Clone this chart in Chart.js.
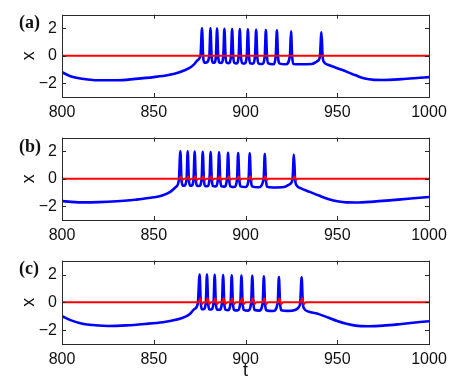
<!DOCTYPE html>
<html>
<head>
<meta charset="utf-8">
<script src="https://cdn.jsdelivr.net/npm/chart.js@4.4.0/dist/chart.umd.min.js"></script>
<style>
  html, body { margin: 0; padding: 0; background: #fff; }
  body { width: 474px; height: 387px; position: relative; overflow: hidden; }
  .panel { position: absolute; left: 0; width: 474px; }
  .lbl { position: absolute; font: bold 18px "Liberation Serif", "DejaVu Serif", serif; line-height: 18px; color: #111; }
</style>
</head>
<body>
<div class="panel" style="top:0px;height:123px"><canvas id="ca" width="474" height="123"></canvas></div>
<div class="panel" style="top:123px;height:123px"><canvas id="cb" width="474" height="123"></canvas></div>
<div class="panel" style="top:246px;height:141px"><canvas id="cc" width="474" height="141"></canvas></div>
<div class="lbl" style="left:19px;top:13px">(a)</div>
<div class="lbl" style="left:19px;top:137px">(b)</div>
<div class="lbl" style="left:19px;top:259px">(c)</div>
<script>
// ---- tick labels ----
const xTicks = [800, 850, 900, 950, 1000];
const yTicks = [-2, 0, 2];
const panelLabels = ['(a)', '(b)', '(c)'];

// ---- panel (a): blue x(t) ----
const tA = [800,805,810,820,830,840,850,858,864,869,872,874,875.5,
  876.3,876.9,877.6,878.5,880.3,880.9,881.5,882.2,883.0,883.9,884.5,885.1,885.8,886.8,
  887.9,888.5,889.1,889.8,890.9,892.1,892.7,893.3,894.0,895.1,896.3,896.9,897.5,898.2,899.5,
  900.7,901.3,901.9,902.6,904.0,905.2,905.8,906.4,907.1,909.0,910.5,911.1,911.7,912.4,915.0,
  916.5,917.1,917.7,918.4,922.0,924.2,924.8,925.4,926.1,930,936,939,940.5,941.4,942,943,945,
  950,955,960,965,970,975,985,995,1000];
const xA = [-1.2,-1.5,-1.65,-1.78,-1.78,-1.68,-1.55,-1.4,-1.2,-0.92,-0.62,-0.3,0.05,
  2.0,0,-0.5,-0.5,0,2.0,0,-0.5,-0.5,0,1.98,0,-0.5,-0.52,
  0,1.97,0,-0.5,-0.53,0,1.95,0,-0.52,-0.55,0,1.95,0,-0.53,-0.56,
  0,1.93,0,-0.55,-0.57,0,1.9,0,-0.55,-0.6,0,1.88,0,-0.55,-0.62,
  0,1.85,0,-0.55,-0.62,0,1.78,0,-0.6,-0.62,-0.6,-0.4,-0.1,1.72,0,-0.5,-0.65,
  -0.9,-1.15,-1.42,-1.66,-1.75,-1.76,-1.7,-1.6,-1.55];
// panel (a): red
const rtA = [800, 1000];
const rxA = [0, 0];

// ---- panel (b): blue ----
const tB = [800,805,812,820,830,840,850,855,859,862,863.7,
  864.5,865.1,865.8,866.5,867.9,868.5,869.1,869.8,870.6,871.7,872.3,872.9,873.6,874.8,
  876.1,876.7,877.3,878.0,879.2,880.4,881.0,881.6,882.3,883.7,885.0,885.6,886.2,886.9,888.5,
  889.9,890.5,891.1,891.8,893.8,895.4,896.0,896.6,897.3,900.0,901.7,902.3,902.9,903.6,907.0,
  909.9,910.5,911.1,911.8,915,921,924,925.6,926.4,927,928,930,935,940,945,950,955,960,970,980,990,1000];
const xB = [-1.62,-1.68,-1.72,-1.7,-1.63,-1.52,-1.35,-1.2,-0.95,-0.6,-0.1,
  2.0,0,-0.5,-0.5,0,2.0,0,-0.5,-0.5,0,1.98,0,-0.5,-0.52,
  0,1.97,0,-0.52,-0.54,0,1.95,0,-0.53,-0.55,0,1.93,0,-0.55,-0.57,
  0,1.9,0,-0.55,-0.6,0,1.88,0,-0.55,-0.6,0,1.85,0,-0.55,-0.62,
  0,1.8,0,-0.58,-0.63,-0.6,-0.4,-0.05,1.75,0,-0.5,-0.68,-0.95,-1.22,-1.47,-1.63,-1.72,-1.73,-1.66,-1.55,-1.44,-1.32];
// panel (b): red
const rtB = [800,864,864.8,865.6,866.5,868,868.8,869.6,870.5,871.8,872.6,873.4,874.3,
  876.2,877,877.8,878.7,880.5,881.3,882.1,883,885.1,885.9,886.7,887.6,890,890.8,891.6,892.5,
  895.5,896.3,897.1,898,901.8,902.6,903.4,904.3,910,910.8,911.6,912.5,925.9,926.7,927.5,928.4,1000];
const rxB = [0,0,0.18,-0.08,0,0,0.18,-0.08,0,0,0.18,-0.08,0,
  0,0.18,-0.08,0,0,0.18,-0.08,0,0,0.18,-0.08,0,0,0.18,-0.08,0,
  0,0.18,-0.08,0,0,0.18,-0.08,0,0,0.18,-0.08,0,0,0.18,-0.08,0,0];

// ---- panel (c): blue ----
const tC = [800,805,810,815,825,835,845,855,862,867,870,872,874,
  875.0,875.6,876.3,877.0,878.4,879.0,879.6,880.3,881.2,882.6,883.2,883.8,884.5,885.8,
  887.2,887.8,888.4,889.1,890.5,891.9,892.5,893.1,893.8,895.6,897.2,897.8,898.4,899.1,901.3,
  903.1,903.7,904.3,905.0,907.5,909.4,910.0,910.6,911.3,915.0,917.6,918.2,918.8,919.5,923,927,
  929,929.8,930.6,931.2,932.2,934,940,945,950,955,960,967,975,985,995,1000];
const xC = [-1.0,-1.3,-1.5,-1.62,-1.7,-1.66,-1.56,-1.43,-1.26,-1.05,-0.8,-0.5,-0.1,
  2.0,0,-0.5,-0.5,0,2.0,0,-0.5,-0.52,0,1.98,0,-0.52,-0.54,
  0,1.96,0,-0.53,-0.56,0,1.94,0,-0.55,-0.58,0,1.92,0,-0.55,-0.6,
  0,1.9,0,-0.56,-0.6,0,1.87,0,-0.57,-0.63,0,1.82,0,-0.58,-0.62,-0.55,
  -0.35,-0.05,1.8,0,-0.5,-0.65,-0.85,-1.1,-1.35,-1.55,-1.68,-1.72,-1.68,-1.56,-1.42,-1.36];
// panel (c): red
const rtC = [800,874.4,875.3,876.2,877.2,878.4,879.3,880.2,881.2,882.6,883.5,884.4,885.4,
  887.2,888.1,889,890,891.9,892.8,893.7,894.7,897.2,898.1,899,900,903.1,904,904.9,905.9,
  909.4,910.3,911.2,912.2,917.6,918.5,919.4,920.4,930,930.9,931.8,932.8,1000];
const rxC = [0,0,0.3,-0.12,0,0,0.3,-0.12,0,0,0.3,-0.12,0,
  0,0.3,-0.12,0,0,0.3,-0.12,0,0,0.3,-0.12,0,0,0.3,-0.12,0,
  0,0.3,-0.12,0,0,0.3,-0.12,0,0,0.3,-0.12,0,0];

const pts = (t, v) => t.map((tt, i) => ({ x: tt, y: v[i] }));
const fmt = v => (v < 0 ? '\u2212' + Math.abs(v) : String(v));

const frame = {
  id: 'frame',
  afterDraw(chart) {
    const { ctx, chartArea: a, scales } = chart;
    ctx.save();
    ctx.strokeStyle = '#2a2a2a';
    ctx.lineWidth = 1;
    ctx.strokeRect(Math.round(a.left) + 0.5, Math.round(a.top) + 0.5,
      Math.round(a.right - a.left), Math.round(a.bottom - a.top));
    ctx.beginPath();
    const L = 4;
    scales.x.ticks.forEach(tk => {
      const px = Math.round(scales.x.getPixelForValue(tk.value)) + 0.5;
      ctx.moveTo(px, a.bottom); ctx.lineTo(px, a.bottom - L);
      ctx.moveTo(px, a.top); ctx.lineTo(px, a.top + L);
    });
    scales.y.ticks.forEach(tk => {
      const py = Math.round(scales.y.getPixelForValue(tk.value)) + 0.5;
      ctx.moveTo(a.left, py); ctx.lineTo(a.left + L, py);
      ctx.moveTo(a.right, py); ctx.lineTo(a.right - L, py);
    });
    ctx.stroke();
    ctx.restore();
  }
};

function makePanel(id, height, padTop, xAxisH, t, v, rt, rv, showT) {
  new Chart(document.getElementById(id), {
    type: 'line',
    data: {
      datasets: [
        { data: pts(rt, rv), borderColor: '#ff0000', borderWidth: 2, pointRadius: 0,
          cubicInterpolationMode: 'monotone', fill: false },
        { data: pts(t, v), borderColor: '#0000ff', borderWidth: 2.6, pointRadius: 0,
          cubicInterpolationMode: 'monotone', fill: false }
      ]
    },
    options: {
      responsive: false,
      animation: false,
      events: [],
      layout: { padding: { left: 0, right: 45, top: padTop, bottom: 0 } },
      plugins: { legend: { display: false }, tooltip: { enabled: false } },
      scales: {
        x: {
          type: 'linear', min: 800, max: 1000,
          afterBuildTicks: s => { s.ticks = xTicks.map(v => ({ value: v })); },
          afterFit: s => { s.height = xAxisH; },
          grid: { display: false, drawTicks: false },
          border: { display: false },
          ticks: { padding: 6, color: '#111', maxRotation: 0, autoSkip: false,
            font: { family: 'Liberation Sans, Arial, sans-serif', size: 16 },
            callback: v => fmt(v) },
          title: { display: showT, text: 't', color: '#111',
            font: { family: 'Liberation Sans, Arial, sans-serif', size: 18 },
            padding: { top: 0, bottom: 5 } }
        },
        y: {
          type: 'linear', min: -3, max: 3,
          afterBuildTicks: s => { s.ticks = yTicks.map(v => ({ value: v })); },
          afterFit: s => { s.width = 62; },
          grid: { display: false, drawTicks: false },
          border: { display: false },
          ticks: { padding: 5, color: '#111',
            font: { family: 'Liberation Sans, Arial, sans-serif', size: 16 },
            callback: v => fmt(v) },
          title: { display: true, text: 'x', color: '#111',
            font: { family: 'Liberation Sans, Arial, sans-serif', size: 18 },
            padding: { top: 18, bottom: 0 } }
        }
      }
    },
    plugins: [frame]
  });
}

makePanel('ca', 123, 13, 26, tA, xA, rtA, rxA, false);
makePanel('cb', 123, 12, 26, tB, xB, rtB, rxB, false);
makePanel('cc', 141, 12, 43, tC, xC, rtC, rxC, true);
</script>
</body>
</html>
